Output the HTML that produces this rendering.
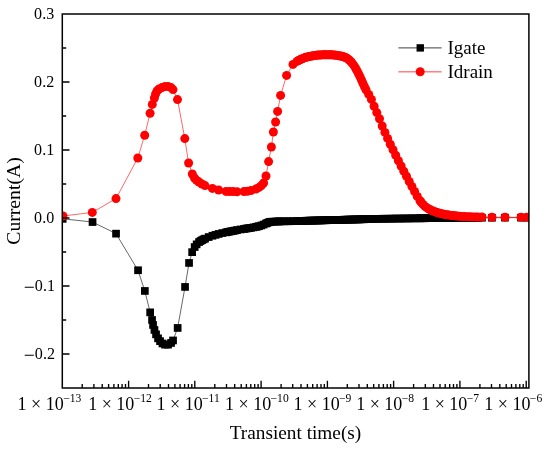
<!DOCTYPE html><html><head><meta charset="utf-8"><title>chart</title><style>html,body{margin:0;padding:0;background:#fff}svg{display:block}text{font-family:"Liberation Serif",serif;fill:#000}</style></head><body>
<svg width="550" height="450" viewBox="0 0 550 450">
<rect width="550" height="450" fill="#fff"/>
<defs><clipPath id="c"><rect x="62.3" y="14" width="466.6" height="374"/></clipPath></defs>
<g clip-path="url(#c)">
<polyline points="62.6,218.8 92.5,222.0 116.0,233.6 138.0,270.3 144.8,291.0 150.2,312.4 152.0,320.0 153.0,325.0 154.4,330.0 156.0,334.4 158.0,338.4 160.0,341.2 162.4,343.5 165.0,344.6 168.0,344.6 171.0,343.0 173.0,340.5 177.6,328.0 185.0,287.0 189.0,263.0 192.2,252.2 194.6,247.0 196.6,244.3 199.0,242.0 200.5,241.1 202.0,240.2 203.5,239.4 205.0,238.6 208.7,237.0 212.4,235.8 215.5,234.8 218.6,233.9 222.3,233.0 226.0,232.3 227.7,232.0 229.4,231.6 231.2,231.3 233.0,230.9 235.0,230.5 237.0,230.1 240.5,229.4 244.0,228.9 245.7,228.6 247.4,228.4 249.2,228.1 251.0,227.8 253.5,227.3 256.0,226.8 257.5,226.5 259.0,226.2 261.4,225.4 263.6,224.5 266.0,223.5 267.3,222.9 268.6,222.4 270.0,221.8 271.4,221.7 273.4,221.7 275.6,221.6 277.6,221.5 279.1,221.4 280.6,221.4 283.6,221.3 286.6,221.3 289.8,221.2 293.0,221.1 297.0,221.0 298.5,221.0 300.0,220.9 301.5,220.9 303.0,220.9 304.5,220.8 306.0,220.8 307.5,220.7 309.0,220.7 310.5,220.7 312.0,220.6 313.5,220.6 315.0,220.5 316.5,220.5 318.0,220.5 319.5,220.4 321.0,220.4 322.5,220.3 324.0,220.3 325.5,220.3 327.0,220.2 328.5,220.2 330.0,220.1 331.5,220.1 333.0,220.1 334.5,220.0 336.0,220.0 337.5,219.9 339.0,219.9 340.5,219.9 342.0,219.8 343.5,219.8 345.0,219.7 346.5,219.7 348.0,219.7 349.5,219.6 351.0,219.6 352.5,219.5 354.0,219.5 355.5,219.5 357.0,219.4 358.5,219.4 360.0,219.3 361.5,219.3 363.0,219.3 364.5,219.2 366.0,219.2 368.7,219.1 371.4,219.0 374.1,219.0 376.8,218.9 379.5,218.8 382.2,218.8 384.9,218.7 387.6,218.7 390.3,218.7 393.0,218.6 395.7,218.6 398.4,218.6 401.1,218.5 403.8,218.5 406.5,218.5 409.2,218.4 411.9,218.4 414.6,218.4 417.3,218.3 420.0,218.3 421.0,218.3 423.0,218.2 425.0,218.2 427.0,218.2 429.0,218.2 431.0,218.1 433.0,218.1 435.0,218.1 437.0,218.1 439.0,218.0 441.0,218.0 443.0,218.0 445.0,218.0 447.0,217.9 449.0,217.9 451.0,217.9 453.0,217.9 455.0,217.9 457.0,217.9 459.6,217.9 462.2,217.9 464.8,217.8 467.4,217.8 470.0,217.8 472.6,217.8 475.2,217.8 477.8,217.8 482.0,217.8 492.0,217.7 505.0,217.7 521.0,217.6 527.0,217.6" fill="none" stroke="#000" stroke-width="0.6"/>
<g fill="#000"><rect x="58.8" y="215.0" width="7.7" height="7.7"/><rect x="88.7" y="218.2" width="7.7" height="7.7"/><rect x="112.2" y="229.8" width="7.7" height="7.7"/><rect x="134.2" y="266.4" width="7.7" height="7.7"/><rect x="141.0" y="287.1" width="7.7" height="7.7"/><rect x="146.3" y="308.5" width="7.7" height="7.7"/><rect x="148.2" y="316.1" width="7.7" height="7.7"/><rect x="149.2" y="321.1" width="7.7" height="7.7"/><rect x="150.6" y="326.1" width="7.7" height="7.7"/><rect x="152.2" y="330.5" width="7.7" height="7.7"/><rect x="154.2" y="334.5" width="7.7" height="7.7"/><rect x="156.2" y="337.3" width="7.7" height="7.7"/><rect x="158.6" y="339.6" width="7.7" height="7.7"/><rect x="161.2" y="340.8" width="7.7" height="7.7"/><rect x="164.2" y="340.8" width="7.7" height="7.7"/><rect x="167.2" y="339.1" width="7.7" height="7.7"/><rect x="169.2" y="336.6" width="7.7" height="7.7"/><rect x="173.8" y="324.1" width="7.7" height="7.7"/><rect x="181.2" y="283.1" width="7.7" height="7.7"/><rect x="185.2" y="259.1" width="7.7" height="7.7"/><rect x="188.3" y="248.3" width="7.7" height="7.7"/><rect x="190.8" y="243.2" width="7.7" height="7.7"/><rect x="192.8" y="240.5" width="7.7" height="7.7"/><rect x="195.2" y="238.2" width="7.7" height="7.7"/><rect x="196.7" y="237.2" width="7.7" height="7.7"/><rect x="198.2" y="236.3" width="7.7" height="7.7"/><rect x="199.7" y="235.5" width="7.7" height="7.7"/><rect x="201.2" y="234.8" width="7.7" height="7.7"/><rect x="204.8" y="233.2" width="7.7" height="7.7"/><rect x="208.6" y="231.9" width="7.7" height="7.7"/><rect x="211.7" y="231.0" width="7.7" height="7.7"/><rect x="214.8" y="230.1" width="7.7" height="7.7"/><rect x="218.5" y="229.2" width="7.7" height="7.7"/><rect x="222.2" y="228.5" width="7.7" height="7.7"/><rect x="223.8" y="228.1" width="7.7" height="7.7"/><rect x="225.6" y="227.8" width="7.7" height="7.7"/><rect x="227.3" y="227.4" width="7.7" height="7.7"/><rect x="229.2" y="227.1" width="7.7" height="7.7"/><rect x="231.2" y="226.7" width="7.7" height="7.7"/><rect x="233.2" y="226.2" width="7.7" height="7.7"/><rect x="236.7" y="225.6" width="7.7" height="7.7"/><rect x="240.2" y="225.1" width="7.7" height="7.7"/><rect x="241.8" y="224.8" width="7.7" height="7.7"/><rect x="243.6" y="224.5" width="7.7" height="7.7"/><rect x="245.3" y="224.3" width="7.7" height="7.7"/><rect x="247.2" y="224.0" width="7.7" height="7.7"/><rect x="249.7" y="223.5" width="7.7" height="7.7"/><rect x="252.2" y="223.0" width="7.7" height="7.7"/><rect x="253.7" y="222.7" width="7.7" height="7.7"/><rect x="255.2" y="222.3" width="7.7" height="7.7"/><rect x="257.5" y="221.6" width="7.7" height="7.7"/><rect x="259.8" y="220.7" width="7.7" height="7.7"/><rect x="262.1" y="219.7" width="7.7" height="7.7"/><rect x="263.4" y="219.1" width="7.7" height="7.7"/><rect x="264.8" y="218.5" width="7.7" height="7.7"/><rect x="266.1" y="218.0" width="7.7" height="7.7"/><rect x="267.5" y="217.9" width="7.7" height="7.7"/><rect x="269.5" y="217.8" width="7.7" height="7.7"/><rect x="271.8" y="217.7" width="7.7" height="7.7"/><rect x="273.8" y="217.6" width="7.7" height="7.7"/><rect x="275.2" y="217.6" width="7.7" height="7.7"/><rect x="276.8" y="217.5" width="7.7" height="7.7"/><rect x="279.8" y="217.5" width="7.7" height="7.7"/><rect x="282.8" y="217.4" width="7.7" height="7.7"/><rect x="285.9" y="217.4" width="7.7" height="7.7"/><rect x="289.1" y="217.3" width="7.7" height="7.7"/><rect x="293.1" y="217.2" width="7.7" height="7.7"/><rect x="294.6" y="217.1" width="7.7" height="7.7"/><rect x="296.1" y="217.1" width="7.7" height="7.7"/><rect x="297.6" y="217.0" width="7.7" height="7.7"/><rect x="299.1" y="217.0" width="7.7" height="7.7"/><rect x="300.6" y="217.0" width="7.7" height="7.7"/><rect x="302.1" y="216.9" width="7.7" height="7.7"/><rect x="303.6" y="216.9" width="7.7" height="7.7"/><rect x="305.1" y="216.8" width="7.7" height="7.7"/><rect x="306.6" y="216.8" width="7.7" height="7.7"/><rect x="308.1" y="216.8" width="7.7" height="7.7"/><rect x="309.6" y="216.7" width="7.7" height="7.7"/><rect x="311.1" y="216.7" width="7.7" height="7.7"/><rect x="312.6" y="216.6" width="7.7" height="7.7"/><rect x="314.1" y="216.6" width="7.7" height="7.7"/><rect x="315.6" y="216.6" width="7.7" height="7.7"/><rect x="317.1" y="216.5" width="7.7" height="7.7"/><rect x="318.6" y="216.5" width="7.7" height="7.7"/><rect x="320.1" y="216.4" width="7.7" height="7.7"/><rect x="321.6" y="216.4" width="7.7" height="7.7"/><rect x="323.1" y="216.4" width="7.7" height="7.7"/><rect x="324.6" y="216.3" width="7.7" height="7.7"/><rect x="326.1" y="216.3" width="7.7" height="7.7"/><rect x="327.6" y="216.2" width="7.7" height="7.7"/><rect x="329.1" y="216.2" width="7.7" height="7.7"/><rect x="330.6" y="216.2" width="7.7" height="7.7"/><rect x="332.1" y="216.1" width="7.7" height="7.7"/><rect x="333.6" y="216.1" width="7.7" height="7.7"/><rect x="335.1" y="216.0" width="7.7" height="7.7"/><rect x="336.6" y="216.0" width="7.7" height="7.7"/><rect x="338.1" y="216.0" width="7.7" height="7.7"/><rect x="339.6" y="215.9" width="7.7" height="7.7"/><rect x="341.1" y="215.9" width="7.7" height="7.7"/><rect x="342.6" y="215.8" width="7.7" height="7.7"/><rect x="344.1" y="215.8" width="7.7" height="7.7"/><rect x="345.6" y="215.8" width="7.7" height="7.7"/><rect x="347.1" y="215.7" width="7.7" height="7.7"/><rect x="348.6" y="215.7" width="7.7" height="7.7"/><rect x="350.1" y="215.6" width="7.7" height="7.7"/><rect x="351.6" y="215.6" width="7.7" height="7.7"/><rect x="353.1" y="215.6" width="7.7" height="7.7"/><rect x="354.6" y="215.5" width="7.7" height="7.7"/><rect x="356.1" y="215.5" width="7.7" height="7.7"/><rect x="357.6" y="215.4" width="7.7" height="7.7"/><rect x="359.1" y="215.4" width="7.7" height="7.7"/><rect x="360.6" y="215.4" width="7.7" height="7.7"/><rect x="362.1" y="215.3" width="7.7" height="7.7"/><rect x="364.8" y="215.3" width="7.7" height="7.7"/><rect x="367.5" y="215.2" width="7.7" height="7.7"/><rect x="370.2" y="215.1" width="7.7" height="7.7"/><rect x="372.9" y="215.0" width="7.7" height="7.7"/><rect x="375.6" y="215.0" width="7.7" height="7.7"/><rect x="378.3" y="214.9" width="7.7" height="7.7"/><rect x="381.0" y="214.9" width="7.7" height="7.7"/><rect x="383.7" y="214.9" width="7.7" height="7.7"/><rect x="386.4" y="214.8" width="7.7" height="7.7"/><rect x="389.1" y="214.8" width="7.7" height="7.7"/><rect x="391.8" y="214.7" width="7.7" height="7.7"/><rect x="394.5" y="214.7" width="7.7" height="7.7"/><rect x="397.2" y="214.7" width="7.7" height="7.7"/><rect x="399.9" y="214.6" width="7.7" height="7.7"/><rect x="402.6" y="214.6" width="7.7" height="7.7"/><rect x="405.3" y="214.6" width="7.7" height="7.7"/><rect x="408.0" y="214.5" width="7.7" height="7.7"/><rect x="410.7" y="214.5" width="7.7" height="7.7"/><rect x="413.4" y="214.5" width="7.7" height="7.7"/><rect x="416.1" y="214.4" width="7.7" height="7.7"/><rect x="417.1" y="214.4" width="7.7" height="7.7"/><rect x="419.1" y="214.4" width="7.7" height="7.7"/><rect x="421.1" y="214.4" width="7.7" height="7.7"/><rect x="423.1" y="214.3" width="7.7" height="7.7"/><rect x="425.1" y="214.3" width="7.7" height="7.7"/><rect x="427.1" y="214.3" width="7.7" height="7.7"/><rect x="429.1" y="214.3" width="7.7" height="7.7"/><rect x="431.1" y="214.2" width="7.7" height="7.7"/><rect x="433.1" y="214.2" width="7.7" height="7.7"/><rect x="435.1" y="214.2" width="7.7" height="7.7"/><rect x="437.1" y="214.2" width="7.7" height="7.7"/><rect x="439.1" y="214.1" width="7.7" height="7.7"/><rect x="441.1" y="214.1" width="7.7" height="7.7"/><rect x="443.1" y="214.1" width="7.7" height="7.7"/><rect x="445.1" y="214.1" width="7.7" height="7.7"/><rect x="447.1" y="214.0" width="7.7" height="7.7"/><rect x="449.1" y="214.0" width="7.7" height="7.7"/><rect x="451.1" y="214.0" width="7.7" height="7.7"/><rect x="453.1" y="214.0" width="7.7" height="7.7"/><rect x="455.8" y="214.0" width="7.7" height="7.7"/><rect x="458.4" y="214.0" width="7.7" height="7.7"/><rect x="461.0" y="214.0" width="7.7" height="7.7"/><rect x="463.6" y="214.0" width="7.7" height="7.7"/><rect x="466.2" y="214.0" width="7.7" height="7.7"/><rect x="468.8" y="214.0" width="7.7" height="7.7"/><rect x="471.4" y="214.0" width="7.7" height="7.7"/><rect x="474.0" y="213.9" width="7.7" height="7.7"/><rect x="478.1" y="213.9" width="7.7" height="7.7"/><rect x="488.1" y="213.9" width="7.7" height="7.7"/><rect x="501.1" y="213.8" width="7.7" height="7.7"/><rect x="517.1" y="213.8" width="7.7" height="7.7"/><rect x="523.1" y="213.8" width="7.7" height="7.7"/></g>
<polyline points="63.0,216.0 92.3,212.4 116.0,198.6 137.8,158.0 144.7,135.2 150.1,113.2 152.3,104.4 154.4,98.0 155.6,94.0 157.0,91.0 159.0,89.0 162.0,87.6 165.0,86.6 168.0,86.4 171.0,87.6 173.0,89.6 177.5,99.6 184.8,138.6 188.6,163.0 192.3,174.0 194.5,178.0 196.6,180.4 199.0,182.0 202.0,184.0 205.0,185.6 212.4,188.4 218.6,190.0 226.0,191.4 229.4,191.6 233.0,191.6 237.0,191.8 244.0,191.6 247.4,191.2 251.0,190.6 256.0,189.0 259.0,187.4 261.4,185.6 263.6,183.0 266.0,176.0 268.6,161.6 271.4,147.0 273.4,132.0 275.6,122.0 277.6,111.4 280.6,95.4 286.6,75.4 293.0,64.4 297.0,61.4 298.5,60.5 300.0,59.7 301.5,59.0 303.0,58.4 304.5,57.8 306.0,57.3 307.5,56.9 309.0,56.5 310.5,56.2 312.0,55.9 313.5,55.7 315.0,55.5 316.5,55.3 318.0,55.1 319.5,55.0 321.0,54.9 322.5,54.8 324.0,54.8 325.5,54.7 327.0,54.7 328.5,54.7 330.0,54.8 331.5,54.8 333.0,54.9 334.5,55.0 336.0,55.2 337.5,55.4 339.0,55.7 340.5,56.0 342.0,56.3 343.5,56.7 345.0,57.3 346.5,58.0 348.0,58.9 349.5,60.2 351.0,61.8 352.5,63.6 354.0,65.6 355.5,68.0 357.0,70.8 358.5,73.7 360.0,76.7 361.5,80.0 363.0,83.5 364.5,86.8 366.0,89.8 368.7,94.4 371.4,99.4 374.1,106.2 376.8,112.6 379.5,118.7 382.2,126.0 384.9,132.4 387.6,138.4 390.3,144.2 393.0,149.8 395.7,155.3 398.4,160.7 401.1,166.0 403.8,171.2 406.5,176.3 409.2,181.5 411.9,186.5 414.6,191.5 417.3,196.4 420.0,200.7 421.0,202.0 423.0,204.4 425.0,206.4 427.0,207.9 429.0,209.1 431.0,210.1 433.0,211.0 435.0,211.8 437.0,212.5 439.0,213.1 441.0,213.6 443.0,214.0 445.0,214.5 447.0,214.8 449.0,215.1 451.0,215.4 453.0,215.6 455.0,215.8 457.0,216.0 459.6,216.3 462.2,216.5 464.8,216.6 467.4,216.7 470.0,216.8 472.6,216.9 475.2,216.9 477.8,217.0 482.0,217.1 492.0,217.2 505.0,217.2 521.0,217.3 527.0,217.3" fill="none" stroke="#f00" stroke-width="0.6"/>
<g fill="#f00"><circle cx="63.0" cy="216.0" r="4.5"/><circle cx="92.3" cy="212.4" r="4.5"/><circle cx="116.0" cy="198.6" r="4.5"/><circle cx="137.8" cy="158.0" r="4.5"/><circle cx="144.7" cy="135.2" r="4.5"/><circle cx="150.1" cy="113.2" r="4.5"/><circle cx="152.3" cy="104.4" r="4.5"/><circle cx="154.4" cy="98.0" r="4.5"/><circle cx="155.6" cy="94.0" r="4.5"/><circle cx="157.0" cy="91.0" r="4.5"/><circle cx="159.0" cy="89.0" r="4.5"/><circle cx="162.0" cy="87.6" r="4.5"/><circle cx="165.0" cy="86.6" r="4.5"/><circle cx="168.0" cy="86.4" r="4.5"/><circle cx="171.0" cy="87.6" r="4.5"/><circle cx="173.0" cy="89.6" r="4.5"/><circle cx="177.5" cy="99.6" r="4.5"/><circle cx="184.8" cy="138.6" r="4.5"/><circle cx="188.6" cy="163.0" r="4.5"/><circle cx="192.3" cy="174.0" r="4.5"/><circle cx="194.5" cy="178.0" r="4.5"/><circle cx="196.6" cy="180.4" r="4.5"/><circle cx="199.0" cy="182.0" r="4.5"/><circle cx="202.0" cy="184.0" r="4.5"/><circle cx="205.0" cy="185.6" r="4.5"/><circle cx="212.4" cy="188.4" r="4.5"/><circle cx="218.6" cy="190.0" r="4.5"/><circle cx="226.0" cy="191.4" r="4.5"/><circle cx="229.4" cy="191.6" r="4.5"/><circle cx="233.0" cy="191.6" r="4.5"/><circle cx="237.0" cy="191.8" r="4.5"/><circle cx="244.0" cy="191.6" r="4.5"/><circle cx="247.4" cy="191.2" r="4.5"/><circle cx="251.0" cy="190.6" r="4.5"/><circle cx="256.0" cy="189.0" r="4.5"/><circle cx="259.0" cy="187.4" r="4.5"/><circle cx="261.4" cy="185.6" r="4.5"/><circle cx="263.6" cy="183.0" r="4.5"/><circle cx="266.0" cy="176.0" r="4.5"/><circle cx="268.6" cy="161.6" r="4.5"/><circle cx="271.4" cy="147.0" r="4.5"/><circle cx="273.4" cy="132.0" r="4.5"/><circle cx="275.6" cy="122.0" r="4.5"/><circle cx="277.6" cy="111.4" r="4.5"/><circle cx="280.6" cy="95.4" r="4.5"/><circle cx="286.6" cy="75.4" r="4.5"/><circle cx="293.0" cy="64.4" r="4.5"/><circle cx="297.0" cy="61.4" r="4.5"/><circle cx="298.5" cy="60.5" r="4.5"/><circle cx="300.0" cy="59.7" r="4.5"/><circle cx="301.5" cy="59.0" r="4.5"/><circle cx="303.0" cy="58.4" r="4.5"/><circle cx="304.5" cy="57.8" r="4.5"/><circle cx="306.0" cy="57.3" r="4.5"/><circle cx="307.5" cy="56.9" r="4.5"/><circle cx="309.0" cy="56.5" r="4.5"/><circle cx="310.5" cy="56.2" r="4.5"/><circle cx="312.0" cy="55.9" r="4.5"/><circle cx="313.5" cy="55.7" r="4.5"/><circle cx="315.0" cy="55.5" r="4.5"/><circle cx="316.5" cy="55.3" r="4.5"/><circle cx="318.0" cy="55.1" r="4.5"/><circle cx="319.5" cy="55.0" r="4.5"/><circle cx="321.0" cy="54.9" r="4.5"/><circle cx="322.5" cy="54.8" r="4.5"/><circle cx="324.0" cy="54.8" r="4.5"/><circle cx="325.5" cy="54.7" r="4.5"/><circle cx="327.0" cy="54.7" r="4.5"/><circle cx="328.5" cy="54.7" r="4.5"/><circle cx="330.0" cy="54.8" r="4.5"/><circle cx="331.5" cy="54.8" r="4.5"/><circle cx="333.0" cy="54.9" r="4.5"/><circle cx="334.5" cy="55.0" r="4.5"/><circle cx="336.0" cy="55.2" r="4.5"/><circle cx="337.5" cy="55.4" r="4.5"/><circle cx="339.0" cy="55.7" r="4.5"/><circle cx="340.5" cy="56.0" r="4.5"/><circle cx="342.0" cy="56.3" r="4.5"/><circle cx="343.5" cy="56.7" r="4.5"/><circle cx="345.0" cy="57.3" r="4.5"/><circle cx="346.5" cy="58.0" r="4.5"/><circle cx="348.0" cy="58.9" r="4.5"/><circle cx="349.5" cy="60.2" r="4.5"/><circle cx="351.0" cy="61.8" r="4.5"/><circle cx="352.5" cy="63.6" r="4.5"/><circle cx="354.0" cy="65.6" r="4.5"/><circle cx="355.5" cy="68.0" r="4.5"/><circle cx="357.0" cy="70.8" r="4.5"/><circle cx="358.5" cy="73.7" r="4.5"/><circle cx="360.0" cy="76.7" r="4.5"/><circle cx="361.5" cy="80.0" r="4.5"/><circle cx="363.0" cy="83.5" r="4.5"/><circle cx="364.5" cy="86.8" r="4.5"/><circle cx="366.0" cy="89.8" r="4.5"/><circle cx="368.7" cy="94.4" r="4.5"/><circle cx="371.4" cy="99.4" r="4.5"/><circle cx="374.1" cy="106.2" r="4.5"/><circle cx="376.8" cy="112.6" r="4.5"/><circle cx="379.5" cy="118.7" r="4.5"/><circle cx="382.2" cy="126.0" r="4.5"/><circle cx="384.9" cy="132.4" r="4.5"/><circle cx="387.6" cy="138.4" r="4.5"/><circle cx="390.3" cy="144.2" r="4.5"/><circle cx="393.0" cy="149.8" r="4.5"/><circle cx="395.7" cy="155.3" r="4.5"/><circle cx="398.4" cy="160.7" r="4.5"/><circle cx="401.1" cy="166.0" r="4.5"/><circle cx="403.8" cy="171.2" r="4.5"/><circle cx="406.5" cy="176.3" r="4.5"/><circle cx="409.2" cy="181.5" r="4.5"/><circle cx="411.9" cy="186.5" r="4.5"/><circle cx="414.6" cy="191.5" r="4.5"/><circle cx="417.3" cy="196.4" r="4.5"/><circle cx="420.0" cy="200.7" r="4.5"/><circle cx="421.0" cy="202.0" r="4.5"/><circle cx="423.0" cy="204.4" r="4.5"/><circle cx="425.0" cy="206.4" r="4.5"/><circle cx="427.0" cy="207.9" r="4.5"/><circle cx="429.0" cy="209.1" r="4.5"/><circle cx="431.0" cy="210.1" r="4.5"/><circle cx="433.0" cy="211.0" r="4.5"/><circle cx="435.0" cy="211.8" r="4.5"/><circle cx="437.0" cy="212.5" r="4.5"/><circle cx="439.0" cy="213.1" r="4.5"/><circle cx="441.0" cy="213.6" r="4.5"/><circle cx="443.0" cy="214.0" r="4.5"/><circle cx="445.0" cy="214.5" r="4.5"/><circle cx="447.0" cy="214.8" r="4.5"/><circle cx="449.0" cy="215.1" r="4.5"/><circle cx="451.0" cy="215.4" r="4.5"/><circle cx="453.0" cy="215.6" r="4.5"/><circle cx="455.0" cy="215.8" r="4.5"/><circle cx="457.0" cy="216.0" r="4.5"/><circle cx="459.6" cy="216.3" r="4.5"/><circle cx="462.2" cy="216.5" r="4.5"/><circle cx="464.8" cy="216.6" r="4.5"/><circle cx="467.4" cy="216.7" r="4.5"/><circle cx="470.0" cy="216.8" r="4.5"/><circle cx="472.6" cy="216.9" r="4.5"/><circle cx="475.2" cy="216.9" r="4.5"/><circle cx="477.8" cy="217.0" r="4.5"/><circle cx="482.0" cy="217.1" r="4.5"/><circle cx="492.0" cy="217.2" r="4.5"/><circle cx="505.0" cy="217.2" r="4.5"/><circle cx="521.0" cy="217.3" r="4.5"/><circle cx="527.0" cy="217.3" r="4.5"/></g>
</g>
<rect x="62.3" y="14" width="466.6" height="374" fill="none" stroke="#000" stroke-width="1.5"/>
<path d="M62.3 82.0h7.2M62.3 150.0h7.2M62.3 218.0h7.2M62.3 286.0h7.2M62.3 354.0h7.2M62.3 48.0h3.9M62.3 116.0h3.9M62.3 184.0h3.9M62.3 252.0h3.9M62.3 320.0h3.9M82.2 388v-3.9M93.9 388v-3.9M102.2 388v-3.9M108.6 388v-3.9M113.9 388v-3.9M118.3 388v-3.9M122.1 388v-3.9M125.5 388v-3.9M128.6 388v-7.2M148.5 388v-3.9M160.2 388v-3.9M168.5 388v-3.9M174.9 388v-3.9M180.1 388v-3.9M184.6 388v-3.9M188.4 388v-3.9M191.8 388v-3.9M194.8 388v-7.2M214.8 388v-3.9M226.5 388v-3.9M234.7 388v-3.9M241.2 388v-3.9M246.4 388v-3.9M250.8 388v-3.9M254.7 388v-3.9M258.1 388v-3.9M261.1 388v-7.2M281.1 388v-3.9M292.7 388v-3.9M301.0 388v-3.9M307.4 388v-3.9M312.7 388v-3.9M317.1 388v-3.9M321.0 388v-3.9M324.3 388v-3.9M327.4 388v-7.2M347.3 388v-3.9M359.0 388v-3.9M367.3 388v-3.9M373.7 388v-3.9M378.9 388v-3.9M383.4 388v-3.9M387.2 388v-3.9M390.6 388v-3.9M393.6 388v-7.2M413.6 388v-3.9M425.3 388v-3.9M433.5 388v-3.9M440.0 388v-3.9M445.2 388v-3.9M449.7 388v-3.9M453.5 388v-3.9M456.9 388v-3.9M459.9 388v-7.2M479.9 388v-3.9M491.5 388v-3.9M499.8 388v-3.9M506.2 388v-3.9M511.5 388v-3.9M515.9 388v-3.9M519.8 388v-3.9M523.2 388v-3.9M526.2 388v-7.2" stroke="#000" stroke-width="1.35" fill="none"/>
<g transform="translate(54.2,18.7) scale(0.93,1)"><text x="0" y="0" font-size="17.3" text-anchor="end">0.3</text></g>
<g transform="translate(54.2,86.7) scale(0.93,1)"><text x="0" y="0" font-size="17.3" text-anchor="end">0.2</text></g>
<g transform="translate(54.2,154.7) scale(0.93,1)"><text x="0" y="0" font-size="17.3" text-anchor="end">0.1</text></g>
<g transform="translate(54.2,222.7) scale(0.93,1)"><text x="0" y="0" font-size="17.3" text-anchor="end">0.0</text></g>
<g transform="translate(54.2,290.7) scale(0.93,1)"><text x="0" y="0" font-size="17.3" text-anchor="end"><tspan font-size="21" dx="0.8" dy="3.0">−</tspan><tspan dy="-3.0">0.1</tspan></text></g>
<g transform="translate(54.2,358.7) scale(0.93,1)"><text x="0" y="0" font-size="17.3" text-anchor="end"><tspan font-size="21" dx="0.8" dy="3.0">−</tspan><tspan dy="-3.0">0.2</tspan></text></g>
<text x="17.6" y="410.3" font-size="18">1 × 10<tspan dy="-8.4" dx="-0.6" font-size="11.6">−13</tspan></text>
<text x="88.2" y="410.3" font-size="18">1 × 10<tspan dy="-8.4" dx="-0.6" font-size="11.6">−12</tspan></text>
<text x="156.5" y="410.3" font-size="18">1 × 10<tspan dy="-8.4" dx="-0.6" font-size="11.6">−11</tspan></text>
<text x="225" y="410.3" font-size="18">1 × 10<tspan dy="-8.4" dx="-0.6" font-size="11.6">−10</tspan></text>
<text x="293.5" y="410.3" font-size="18">1 × 10<tspan dy="-8.4" dx="-0.6" font-size="11.6">−9</tspan></text>
<text x="356.2" y="410.3" font-size="18">1 × 10<tspan dy="-8.4" dx="-0.6" font-size="11.6">−8</tspan></text>
<text x="421.2" y="410.3" font-size="18">1 × 10<tspan dy="-8.4" dx="-0.6" font-size="11.6">−7</tspan></text>
<text x="484.3" y="410.3" font-size="18">1 × 10<tspan dy="-8.4" dx="-0.6" font-size="11.6">−6</tspan></text>
<text x="295.5" y="438.7" font-size="19.3" text-anchor="middle">Transient time(s)</text>
<text transform="translate(20.4,201) rotate(-90)" font-size="19.7" text-anchor="middle">Current(A)</text>
<path d="M398.4 47.9H441.6" stroke="#000" stroke-width="0.75"/><rect x="416.55" y="44.2" width="7.4" height="7.4" fill="#000"/>
<path d="M398.4 71.85H441.6" stroke="#f00" stroke-width="0.75"/><circle cx="420.2" cy="71.8" r="4.5" fill="#f00"/>
<text x="447.5" y="54" font-size="19">Igate</text>
<text x="447.5" y="78.4" font-size="19">Idrain</text>
</svg></body></html>
